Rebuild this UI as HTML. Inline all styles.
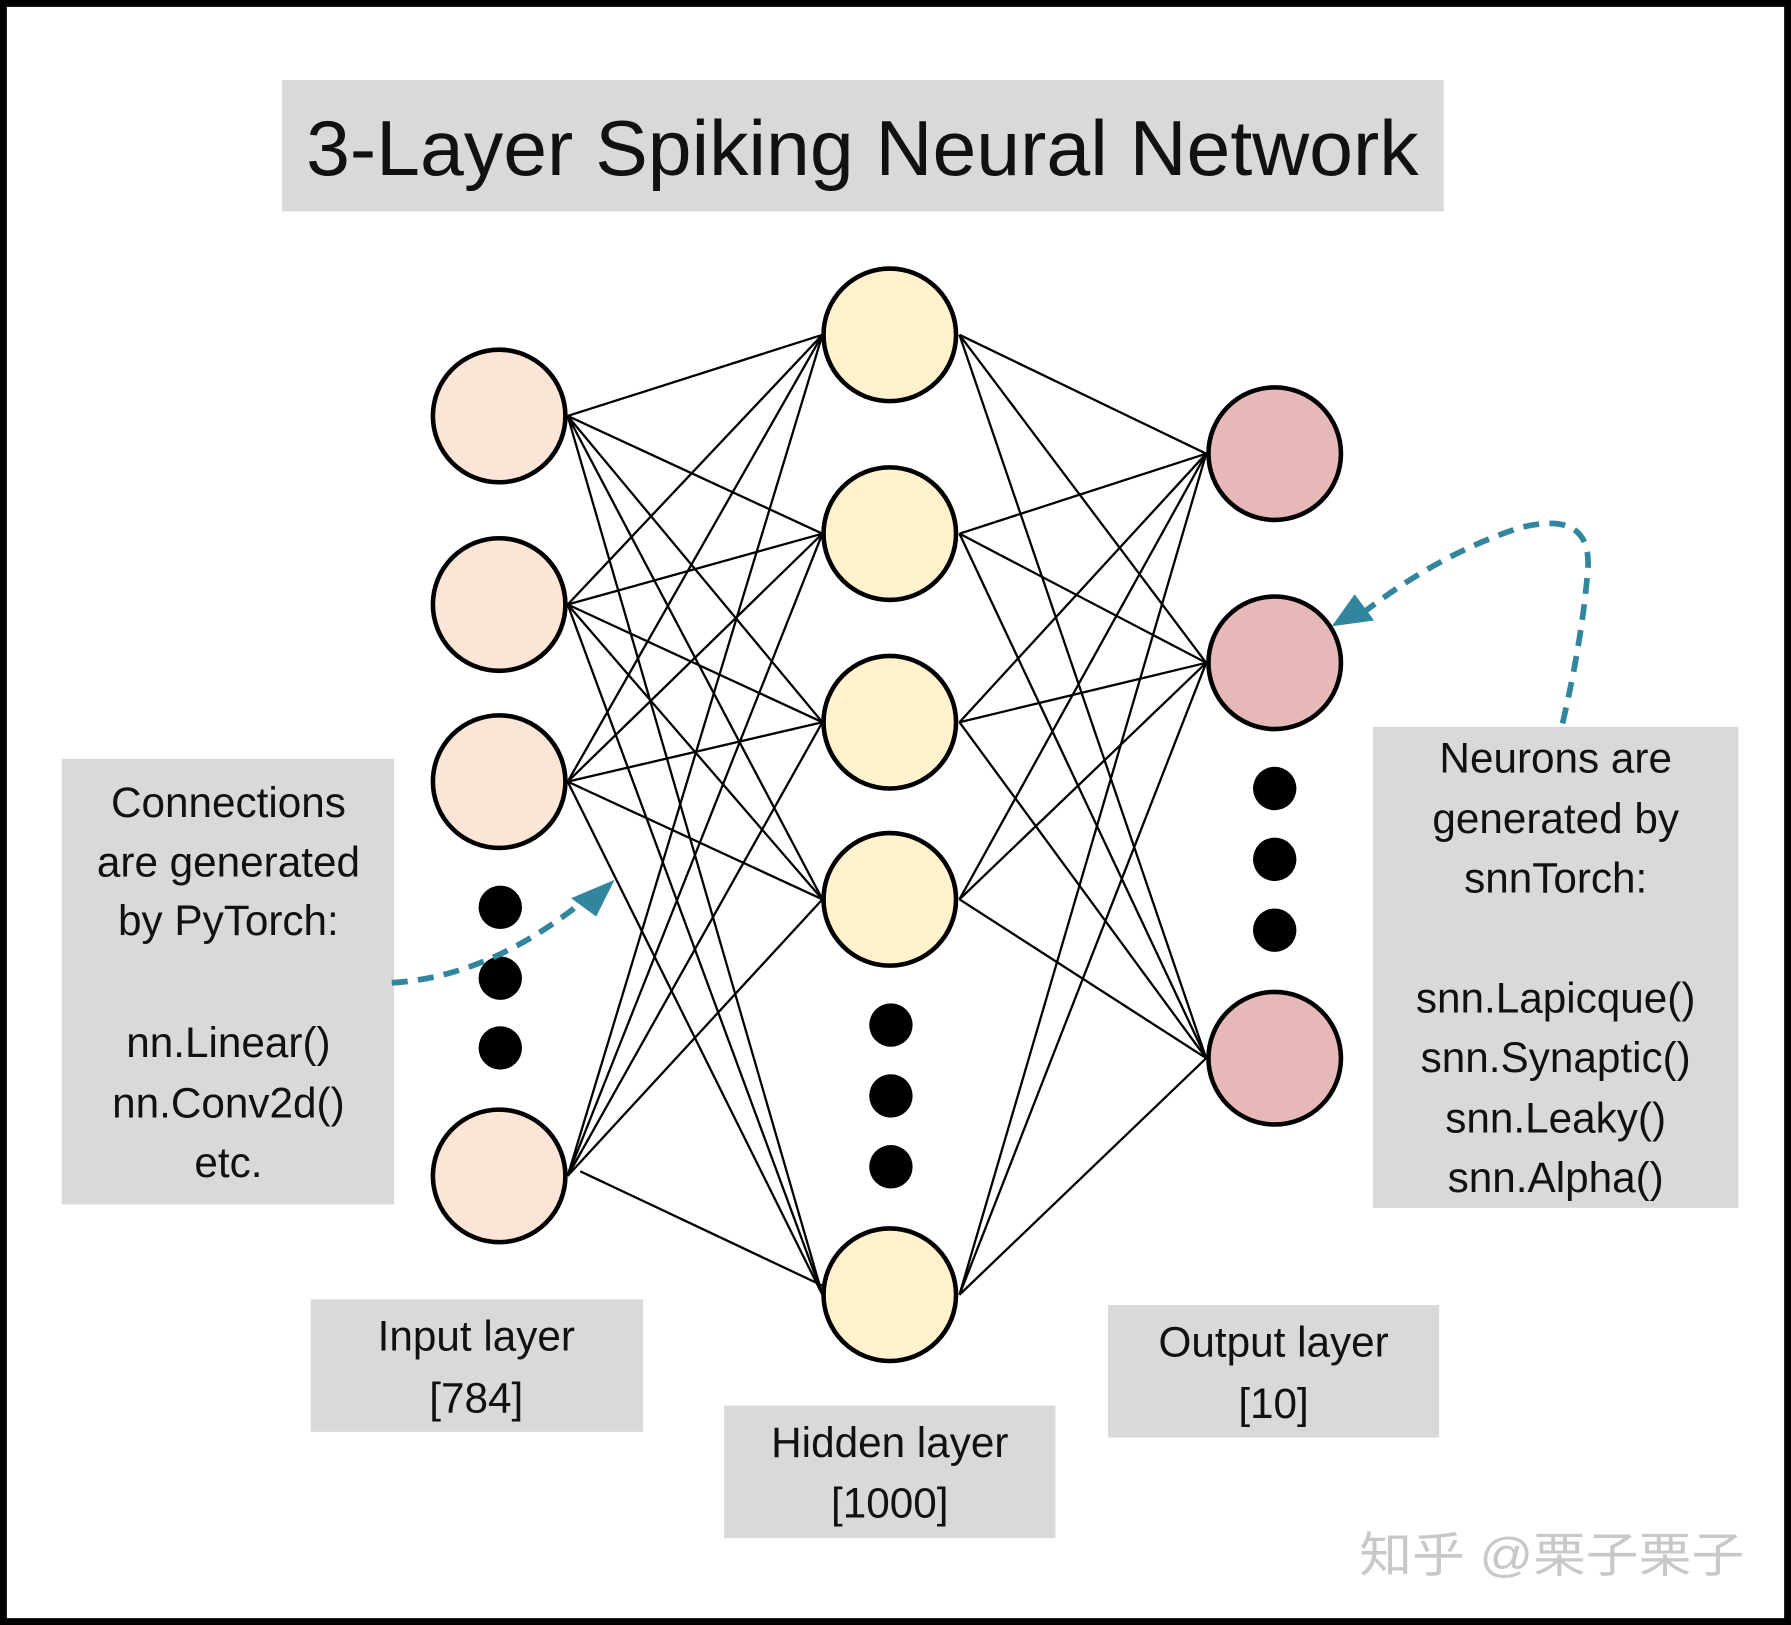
<!DOCTYPE html>
<html><head><meta charset="utf-8"><style>
html,body{margin:0;padding:0;background:#fff;}
svg{display:block;}
text{font-family:"Liberation Sans","Noto Sans CJK SC",sans-serif;fill:#111;}
</style></head><body>
<svg width="1791" height="1625" viewBox="0 0 1568 1422" preserveAspectRatio="none" xmlns="http://www.w3.org/2000/svg">
<rect x="0" y="0" width="1568" height="1422" fill="#fff"/>
<rect x="3" y="3" width="1562" height="1416" fill="none" stroke="#000" stroke-width="6"/>
<rect x="247" y="70" width="1017" height="115" fill="#d9d9d9"/>
<text x="268" y="153" font-size="68" textLength="974" lengthAdjust="spacingAndGlyphs">3-Layer Spiking Neural Network</text>
<g stroke="#000" stroke-width="2">
<line x1="497" y1="364" x2="720" y2="293"/><line x1="497" y1="364" x2="720" y2="467"/><line x1="497" y1="364" x2="720" y2="632"/><line x1="497" y1="364" x2="720" y2="787"/><line x1="497" y1="364" x2="720" y2="1133"/>
<line x1="497" y1="529" x2="720" y2="293"/><line x1="497" y1="529" x2="720" y2="467"/><line x1="497" y1="529" x2="720" y2="632"/><line x1="497" y1="529" x2="720" y2="787"/><line x1="497" y1="529" x2="720" y2="1133"/>
<line x1="497" y1="684" x2="720" y2="293"/><line x1="497" y1="684" x2="720" y2="467"/><line x1="497" y1="684" x2="720" y2="632"/><line x1="497" y1="684" x2="720" y2="787"/><line x1="497" y1="684" x2="720" y2="1133"/>
<line x1="497" y1="1029" x2="720" y2="293"/><line x1="497" y1="1029" x2="720" y2="467"/><line x1="497" y1="1029" x2="720" y2="632"/><line x1="497" y1="1029" x2="720" y2="787"/><line x1="508" y1="1025" x2="720" y2="1125"/>
<line x1="840" y1="293" x2="1056" y2="397"/><line x1="840" y1="293" x2="1056" y2="580"/><line x1="840" y1="293" x2="1056" y2="926"/>
<line x1="840" y1="467" x2="1056" y2="397"/><line x1="840" y1="467" x2="1056" y2="580"/><line x1="840" y1="467" x2="1056" y2="926"/>
<line x1="840" y1="632" x2="1056" y2="397"/><line x1="840" y1="632" x2="1056" y2="580"/><line x1="840" y1="632" x2="1056" y2="926"/>
<line x1="840" y1="787" x2="1056" y2="397"/><line x1="840" y1="787" x2="1056" y2="580"/><line x1="840" y1="787" x2="1056" y2="926"/>
<line x1="840" y1="1133" x2="1056" y2="397"/><line x1="840" y1="1133" x2="1056" y2="580"/><line x1="840" y1="1133" x2="1056" y2="926"/>
</g>
<g stroke="#000" stroke-width="4">
<circle cx="437" cy="364" r="58" fill="#fbe5d6"/><circle cx="437" cy="529" r="58" fill="#fbe5d6"/><circle cx="437" cy="684" r="58" fill="#fbe5d6"/><circle cx="437" cy="1029" r="58" fill="#fbe5d6"/>
<circle cx="779" cy="293" r="58" fill="#fff2cc"/><circle cx="779" cy="467" r="58" fill="#fff2cc"/><circle cx="779" cy="632" r="58" fill="#fff2cc"/><circle cx="779" cy="787" r="58" fill="#fff2cc"/><circle cx="779" cy="1133" r="58" fill="#fff2cc"/>
<circle cx="1116" cy="397" r="58" fill="#e6b8b7"/><circle cx="1116" cy="580" r="58" fill="#e6b8b7"/><circle cx="1116" cy="926" r="58" fill="#e6b8b7"/>
</g>
<g fill="#000">
<circle cx="438" cy="794" r="19"/><circle cx="438" cy="856" r="19"/><circle cx="438" cy="917" r="19"/>
<circle cx="780" cy="897" r="19"/><circle cx="780" cy="959" r="19"/><circle cx="780" cy="1021" r="19"/>
<circle cx="1116" cy="690" r="19"/><circle cx="1116" cy="752" r="19"/><circle cx="1116" cy="814" r="19"/>
</g>
<rect x="54" y="664" width="291" height="390" fill="#d9d9d9"/>
<g font-size="37" text-anchor="middle">
<text x="200" y="715">Connections</text><text x="200" y="767">are generated</text><text x="200" y="818">by PyTorch:</text>
<text x="200" y="925">nn.Linear()</text><text x="200" y="978">nn.Conv2d()</text><text x="200" y="1030">etc.</text>
</g>
<rect x="1202" y="636" width="320" height="421" fill="#d9d9d9"/>
<g font-size="37" text-anchor="middle">
<text x="1362" y="676">Neurons are</text><text x="1362" y="729">generated by</text><text x="1362" y="781">snnTorch:</text>
<text x="1362" y="886">snn.Lapicque()</text><text x="1362" y="938">snn.Synaptic()</text><text x="1362" y="991">snn.Leaky()</text><text x="1362" y="1043">snn.Alpha()</text>
</g>
<rect x="272" y="1137" width="291" height="116" fill="#d9d9d9"/>
<rect x="634" y="1230" width="290" height="116" fill="#d9d9d9"/>
<rect x="970" y="1142" width="290" height="116" fill="#d9d9d9"/>
<g font-size="37" text-anchor="middle">
<text x="417" y="1182">Input layer</text><text x="417" y="1236">[784]</text>
<text x="779" y="1275">Hidden layer</text><text x="779" y="1328">[1000]</text>
<text x="1115" y="1187">Output layer</text><text x="1115" y="1241">[10]</text>
</g>
<g stroke="#31859c" stroke-width="5" fill="none" stroke-dasharray="14,9">
<path d="M343 860 Q430 855 515 785"/>
<path d="M1368 633 Q1385 560 1390 500 Q1395 445 1330 462 Q1260 485 1195 535"/>
</g>
<polygon points="538,770 500,786 522,802" fill="#31859c"/>
<polygon points="1166,548 1186,520 1203,543" fill="#31859c"/>
<text x="1190" y="1375" font-size="42" textLength="337" lengthAdjust="spacingAndGlyphs" style="fill:#c8c8c8">知乎 @栗子栗子</text>
</svg>
</body></html>
